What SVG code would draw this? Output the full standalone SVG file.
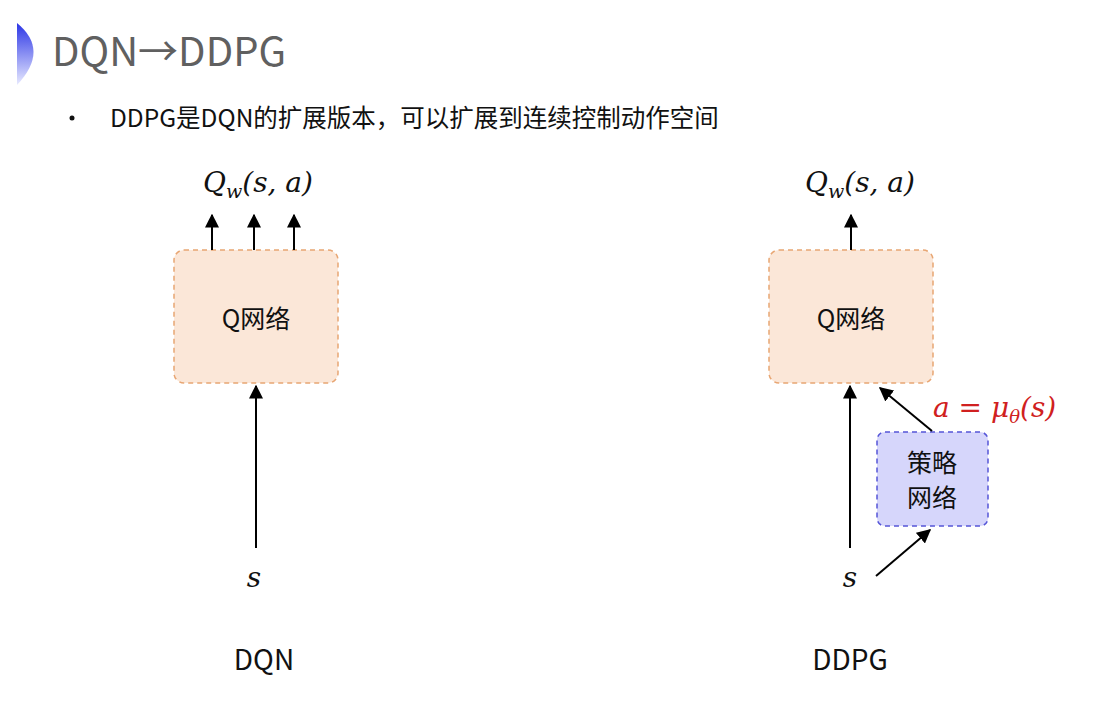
<svg xmlns="http://www.w3.org/2000/svg" width="1101" height="702" viewBox="0 0 1101 702">
<defs>
<linearGradient id="g" x1="0" y1="0" x2="0" y2="1"><stop offset="0" stop-color="#2b35e6"/><stop offset="1" stop-color="#e8eaff"/></linearGradient>
<marker id="ah" viewBox="0 0 10 10" refX="9" refY="5" markerWidth="7" markerHeight="7" orient="auto"><path d="M0,0 L10,5 L0,10 z" fill="#000"/></marker>
<style>
.t{font-family:"Noto Sans CJK SC","Noto Sans",sans-serif;fill:#111}
.m{font-family:"DejaVu Serif","Liberation Serif",serif;font-style:italic;fill:#111}
.q{fill:#fbe7d8;stroke:#e8a673;stroke-width:1.5;stroke-dasharray:5,4}
.p{fill:#d6d6fb;stroke:#5555d8;stroke-width:1.5;stroke-dasharray:5,4}
.c line{stroke:#000;stroke-width:2;marker-end:url(#ah)}
</style>
</defs>
<rect width="1101" height="702" fill="#fff"/>
<path d="M17,23 Q50,50 17,85 Z" fill="url(#g)"/>
<text x="52" y="66" class="t" font-size="40" style="fill:#606060">DQN→DDPG</text>
<circle cx="72" cy="118" r="2.5" fill="#111"/>
<text x="110" y="127" class="t" font-size="24.5">DDPG是DQN的扩展版本，可以扩展到连续控制动作空间</text>
<g id="dqn-out"><text x="203" y="192" class="m" font-size="28">Q<tspan font-size="19" dy="6">w</tspan><tspan dy="-6">(s, a)</tspan></text></g>
<g id="dqn-q"><rect x="174" y="250" width="164" height="133" rx="10" class="q"/><text x="256" y="328" class="t" font-size="25" text-anchor="middle">Q网络</text></g>
<g id="dqn-s"><text x="254" y="587" class="m" font-size="28" text-anchor="middle">s</text></g>
<text x="264" y="670" class="t" font-size="28" text-anchor="middle">DQN</text>
<g id="ddpg-out"><text x="805" y="192" class="m" font-size="28">Q<tspan font-size="19" dy="6">w</tspan><tspan dy="-6">(s, a)</tspan></text></g>
<g id="ddpg-q"><rect x="769" y="250" width="164" height="133" rx="10" class="q"/><text x="851" y="328" class="t" font-size="25" text-anchor="middle">Q网络</text></g>
<g id="policy"><rect x="877" y="432" width="111" height="94" rx="8" class="p"/><text x="932" y="472" class="t" font-size="25" text-anchor="middle">策略</text><text x="932" y="507" class="t" font-size="25" text-anchor="middle">网络</text></g>
<text x="933" y="417" class="m" font-size="28" style="fill:#d02020">a = μ<tspan font-size="18" dy="6">θ</tspan><tspan dy="-6">(s)</tspan></text>
<g id="ddpg-s"><text x="850" y="587" class="m" font-size="28" text-anchor="middle">s</text></g>
<text x="850" y="670" class="t" font-size="28" text-anchor="middle">DDPG</text>
<g class="c">
<line x1="212" y1="250" x2="212" y2="215"/>
<line x1="254" y1="250" x2="254" y2="215"/>
<line x1="294" y1="250" x2="294" y2="215"/>
<line x1="256" y1="548" x2="256" y2="386"/>
<line x1="851" y1="250" x2="851" y2="215"/>
<line x1="850" y1="548" x2="850" y2="386"/>
<line x1="932" y1="431" x2="880" y2="388"/>
<line x1="876" y1="576" x2="930" y2="530"/>
</g>
</svg>
